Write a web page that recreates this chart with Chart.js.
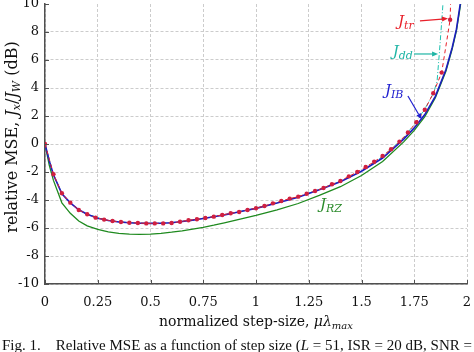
<!DOCTYPE html>
<html>
<head>
<meta charset="utf-8">
<script src="https://cdn.jsdelivr.net/npm/chart.js@4.4.1/dist/chart.umd.min.js"></script>
<style>
html, body { margin: 0; padding: 0; background: #fff; overflow: hidden; }
#wrap { width: 474px; height: 352px; }
</style>
</head>
<body>
<div id="wrap"><canvas id="chart" width="474" height="352"></canvas></div>
<script>
var xTicks = [0, 0.25, 0.5, 0.75, 1, 1.25, 1.5, 1.75, 2];
var yTicks = [-10, -8, -6, -4, -2, 0, 2, 4, 6, 8, 10];

// J_IB (blue, solid)
var ibX = [0, 0.02, 0.04, 0.08, 0.12, 0.16, 0.2, 0.25, 0.3, 0.35, 0.4, 0.45, 0.5, 0.55, 0.6, 0.65, 0.7, 0.75, 0.8, 0.85, 0.9, 0.95,
	1.0, 1.1, 1.2, 1.3, 1.4, 1.5, 1.6, 1.7, 1.75, 1.8, 1.85, 1.9, 1.93, 1.95, 1.968];
var ibY = [0, -1.2, -2.2, -3.55, -4.2, -4.7, -5.02, -5.3, -5.47, -5.57, -5.63, -5.66, -5.67, -5.66, -5.62, -5.54, -5.44, -5.32, -5.2, -5.06, -4.91, -4.75,
	-4.6, -4.22, -3.8, -3.27, -2.7, -1.95, -1.0, 0.35, 1.15, 2.1, 3.4, 5.3, 6.9, 8.2, 10];

// J_RZ (green, solid)
var rzX = [0, 0.02, 0.04, 0.08, 0.12, 0.16, 0.2, 0.25, 0.3, 0.35, 0.4, 0.45, 0.5, 0.55, 0.6, 0.65, 0.7, 0.75, 0.8, 0.85, 0.9, 0.95,
	1.0, 1.1, 1.2, 1.3, 1.4, 1.5, 1.6, 1.7, 1.75, 1.8, 1.85, 1.9, 1.93, 1.95, 1.97];
var rzY = [0, -1.5, -2.6, -4.2, -4.95, -5.5, -5.85, -6.1, -6.27, -6.38, -6.44, -6.46, -6.44, -6.38, -6.3, -6.2, -6.08, -5.95, -5.8, -5.63, -5.45, -5.27,
	-5.1, -4.7, -4.25, -3.67, -3.05, -2.25, -1.25, 0.15, 0.97, 1.95, 3.3, 5.2, 6.8, 8.1, 10];

// J_tr (red, dashed with markers)
var trX = [0, 0.04, 0.08, 0.12, 0.16, 0.2, 0.24, 0.28, 0.32, 0.36, 0.4, 0.44, 0.48, 0.52, 0.56, 0.6, 0.64, 0.68, 0.72, 0.76,
	0.8, 0.84, 0.88, 0.92, 0.96, 1.0, 1.04, 1.08, 1.12, 1.16, 1.2, 1.24, 1.28, 1.32, 1.36, 1.4, 1.44, 1.48, 1.52, 1.56,
	1.6, 1.64, 1.68, 1.72, 1.76, 1.8, 1.84, 1.88, 1.92, 1.922];
var trY = [0, -2.16, -3.52, -4.19, -4.71, -5.02, -5.26, -5.4, -5.5, -5.57, -5.62, -5.64, -5.67, -5.67, -5.67, -5.64, -5.55, -5.45, -5.38, -5.29,
	-5.19, -5.07, -4.95, -4.86, -4.71, -4.59, -4.43, -4.24, -4.07, -3.9, -3.76, -3.55, -3.36, -3.14, -2.88, -2.64, -2.31, -2.0, -1.64, -1.27,
	-0.85, -0.38, 0.17, 0.82, 1.55, 2.45, 3.62, 5.1, 8.88, 10];

// J_dd (cyan, dash-dot)
var ddX = [0, 0.04, 0.08, 0.12, 0.16, 0.2, 0.3, 0.4, 0.5, 0.6, 0.7, 0.8, 0.9, 1.0, 1.1, 1.2, 1.3, 1.4, 1.5, 1.6, 1.7, 1.75, 1.8, 1.84, 1.858, 1.869, 1.879, 1.886];
var ddY = [0, -2.16, -3.52, -4.19, -4.71, -5.02, -5.47, -5.62, -5.67, -5.62, -5.42, -5.18, -4.9, -4.59, -4.2, -3.77, -3.25, -2.66, -1.95, -0.9, 0.45, 1.4, 2.5, 3.6, 4.45, 6.5, 8.5, 10];

var notes = [
	{sub: 'tr', color: '#e8202a', x: 1.673, y: 8.8, arrow: [1.777, 8.79, 1.91, 8.96]},
	{sub: 'dd', color: '#1fb5a5', x: 1.648, y: 6.64, arrow: [1.749, 6.43, 1.863, 6.43]},
	{sub: 'IB', color: '#2020d0', x: 1.611, y: 3.84, arrow: [1.72, 3.43, 1.785, 1.76]},
	{sub: 'RZ', color: '#2a8a2a', x: 1.303, y: -4.31}
];

var serif = '"DejaVu Serif", serif';
var capSerif = '"Liberation Serif", serif';

function pts(xs, ys) {
	return xs.map(function(x, i) { return {x: x, y: ys[i]}; });
}

function richWidth(ctx, parts) {
	var w = 0;
	parts.forEach(function(p) { ctx.font = p.f; w += ctx.measureText(p.t).width; });
	return w;
}

function drawRich(ctx, parts, x, y, center) {
	var cx = center ? x - richWidth(ctx, parts) / 2 : x;
	parts.forEach(function(p) {
		ctx.font = p.f;
		ctx.fillText(p.t, cx, y + (p.dy || 0));
		cx += ctx.measureText(p.t).width;
	});
}

function arrow(ctx, x1, y1, x2, y2, color) {
	var a = Math.atan2(y2 - y1, x2 - x1), L = 6, H = 2.5;
	ctx.strokeStyle = color; ctx.fillStyle = color; ctx.lineWidth = 1.2;
	ctx.beginPath(); ctx.moveTo(x1, y1); ctx.lineTo(x2 - L * Math.cos(a), y2 - L * Math.sin(a)); ctx.stroke();
	ctx.beginPath();
	ctx.moveTo(x2, y2);
	ctx.lineTo(x2 - L * Math.cos(a) + H * Math.sin(a), y2 - L * Math.sin(a) - H * Math.cos(a));
	ctx.lineTo(x2 - L * Math.cos(a) - H * Math.sin(a), y2 - L * Math.sin(a) + H * Math.cos(a));
	ctx.closePath(); ctx.fill();
}

var figText = {
	id: 'figText',
	afterDraw: function(chart) {
		var ctx = chart.ctx, xs = chart.scales.x, ys = chart.scales.y, area = chart.chartArea;
		ctx.save();
		//inward tick marks
		ctx.strokeStyle = '#505050'; ctx.lineWidth = 1;
		xTicks.forEach(function(v) {
			var p = Math.round(xs.getPixelForValue(v)) + 0.5;
			ctx.beginPath(); ctx.moveTo(p, area.bottom); ctx.lineTo(p, area.bottom - 4); ctx.stroke();
		});
		yTicks.forEach(function(v) {
			var p = Math.round(ys.getPixelForValue(v)) + 0.5;
			ctx.beginPath(); ctx.moveTo(area.left, p); ctx.lineTo(area.left + 4, p); ctx.stroke();
		});

		//curve labels and arrows
		ctx.textBaseline = 'alphabetic';
		notes.forEach(function(n) {
			var px = xs.getPixelForValue(n.x), py = ys.getPixelForValue(n.y);
			ctx.fillStyle = n.color;
			drawRich(ctx, [
				{t: 'J', f: 'italic 15px ' + serif},
				{t: n.sub, f: 'italic 11px ' + serif, dy: 3}
			], px, py + 5, false);
			if (n.arrow) {
				arrow(ctx, xs.getPixelForValue(n.arrow[0]), ys.getPixelForValue(n.arrow[1]),
					xs.getPixelForValue(n.arrow[2]), ys.getPixelForValue(n.arrow[3]), n.color);
			}
		});

		//axis titles
		ctx.fillStyle = '#111';
		drawRich(ctx, [
			{t: 'normalized step-size, ', f: '14px ' + serif},
			{t: 'μλ', f: 'italic 14px ' + serif},
			{t: 'max', f: 'italic 10px ' + serif, dy: 3}
		], (area.left + area.right) / 2, 326, true);

		ctx.save();
		ctx.translate(17, 137);
		ctx.rotate(-Math.PI / 2);
		drawRich(ctx, [
			{t: 'relative MSE, ', f: '16px ' + serif},
			{t: 'J', f: 'italic 16px ' + serif},
			{t: 'x', f: 'italic 11px ' + serif, dy: 3},
			{t: '/', f: '16px ' + serif},
			{t: 'J', f: 'italic 16px ' + serif},
			{t: 'W', f: 'italic 11px ' + serif, dy: 3},
			{t: ' (dB)', f: '16px ' + serif}
		], 0, 0, true);
		ctx.restore();

		//caption
		drawRich(ctx, [
			{t: 'Fig. 1.    Relative MSE as a function of step size (', f: '15px ' + capSerif},
			{t: 'L', f: 'italic 15px ' + capSerif},
			{t: ' = 51, ISR = 20 dB, SNR = 10 dB)', f: '15px ' + capSerif}
		], 2, 350, false);
		ctx.restore();
	}
};

var chart = new Chart(document.getElementById('chart'), {
	type: 'scatter',
	data: {
		datasets: [{
			label: 'J_tr',
			data: pts(trX, trY),
			showLine: true,
			borderColor: '#e8202a',
			borderWidth: 1,
			borderDash: [4, 3],
			backgroundColor: '#d02040',
			pointBackgroundColor: '#d02040',
			pointBorderWidth: 0,
			pointRadius: function(c) { return c.dataIndex === trX.length - 1 ? 0 : 2.2; }
		}, {
			label: 'J_IB',
			data: pts(ibX, ibY),
			showLine: true,
			borderColor: '#1c1cc0',
			borderWidth: 1.6,
			pointRadius: 0
		}, {
			label: 'J_dd',
			data: pts(ddX, ddY),
			showLine: true,
			borderColor: '#1fc0b0',
			borderWidth: 1,
			borderDash: [5, 2, 1, 2],
			pointRadius: 0
		}, {
			label: 'J_RZ',
			data: pts(rzX, rzY),
			showLine: true,
			borderColor: '#1f8a1f',
			borderWidth: 1.3,
			pointRadius: 0
		}]
	},
	options: {
		responsive: false,
		animation: false,
		devicePixelRatio: 1,
		layout: { autoPadding: false, padding: { top: 4, right: 7, left: 0, bottom: 0 } },
		plugins: { legend: { display: false }, tooltip: { enabled: false } },
		scales: {
			x: {
				type: 'linear',
				min: 0, max: 2,
				afterBuildTicks: function(s) { s.ticks = xTicks.map(function(v) { return {value: v}; }); },
				afterFit: function(s) { s.height = 68; s.paddingLeft = 0; s.paddingRight = 0; },
				grid: { color: '#cccccc', drawTicks: false, lineWidth: 1 },
				border: { display: true, color: '#505050', width: 1.5, dash: [3, 2] },
				ticks: {
					padding: 11, color: '#111', font: { family: serif, size: 13 },
					callback: function(v) { return String(v); }
				}
			},
			y: {
				type: 'linear',
				min: -10, max: 10,
				afterBuildTicks: function(s) { s.ticks = yTicks.map(function(v) { return {value: v}; }); },
				afterFit: function(s) { s.width = 45; s.paddingTop = 0; s.paddingBottom = 0; },
				grid: {
					color: function(c) { return c.tick && c.tick.value === 10 ? 'rgba(0,0,0,0)' : '#cccccc'; },
					drawTicks: false, lineWidth: 1
				},
				border: { display: true, color: '#505050', width: 1.5, dash: [3, 2] },
				ticks: {
					padding: 6, color: '#111', font: { family: serif, size: 13 },
					callback: function(v) { return String(v); }
				}
			}
		}
	},
	plugins: [figText]
});
</script>
</body>
</html>
